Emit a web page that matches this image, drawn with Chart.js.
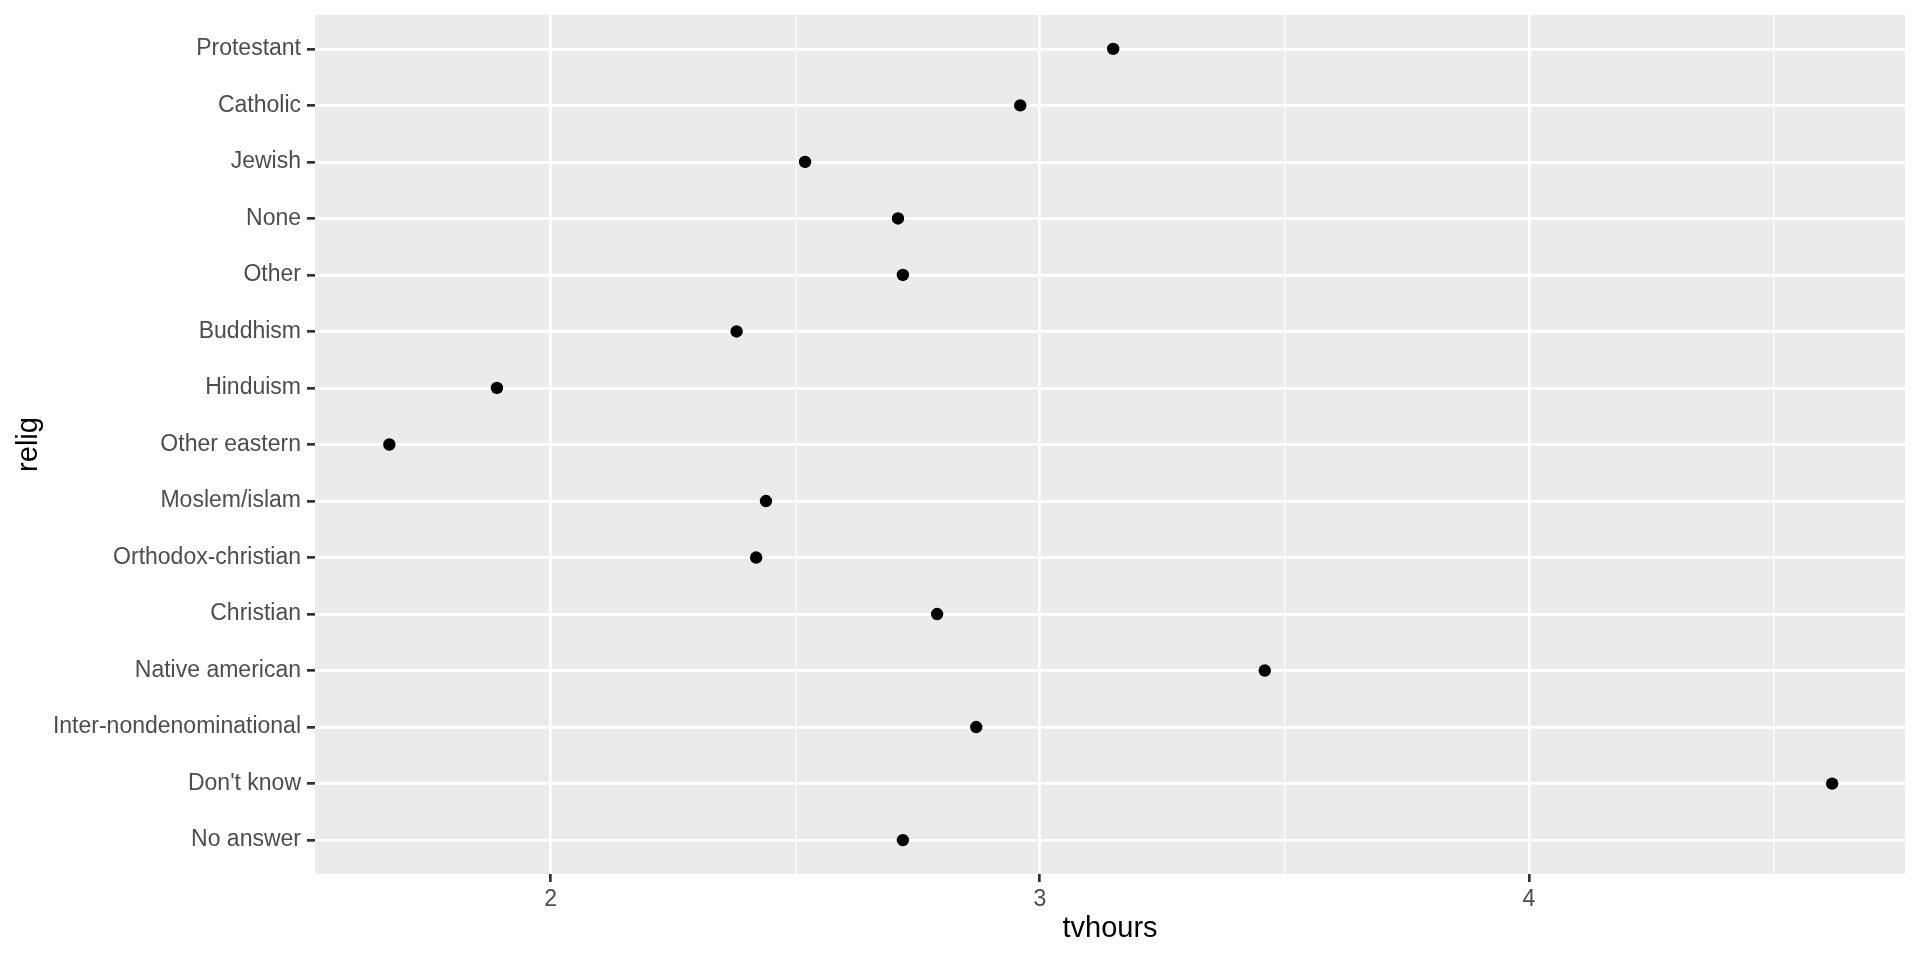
<!DOCTYPE html>
<html>
<head>
<meta charset="utf-8">
<title>relig x tvhours</title>
<script src="https://cdn.jsdelivr.net/npm/chart.js@4.4.1/dist/chart.umd.min.js"></script>
<style>
	body { margin: 0; background: #ffffff; }
	canvas { display: block; }
</style>
</head>
<body>
<canvas id="grafico" width="1920" height="960"></canvas>
<script>
// categorias (eixo y, de cima para baixo)
var relig = [
	"Protestant",
	"Catholic",
	"Jewish",
	"None",
	"Other",
	"Buddhism",
	"Hinduism",
	"Other eastern",
	"Moslem/islam",
	"Orthodox-christian",
	"Christian",
	"Native american",
	"Inter-nondenominational",
	"Don't know",
	"No answer",
];

// media de horas de tv por religiao
var tvhours = [3.15, 2.96, 2.52, 2.71, 2.72, 2.38, 1.89, 1.67, 2.44, 2.42, 2.79, 3.46, 2.87, 4.62, 2.72];

// ticks do eixo x
var xTicks = [2, 3, 4];
var xMinor = [2.5, 3.5, 4.5];

var pontos = [];
for (var i = 0; i < relig.length; i++) {
	pontos.push({ x: tvhours[i], y: i });
}

// fundo cinza do painel
var fundoPainel = {
	id: "fundoPainel",
	beforeDraw: function (chart) {
		var ctx = chart.ctx;
		var a = chart.chartArea;
		ctx.save();
		ctx.fillStyle = "#ffffff";
		ctx.fillRect(0, 0, chart.width, chart.height);
		ctx.fillStyle = "#EBEBEB";
		ctx.fillRect(a.left, a.top, a.right - a.left, a.bottom - a.top);
		ctx.restore();
	},
};

var fonte = "'Liberation Sans', Arial, sans-serif";

function ehMenor(ctx) {
	return ctx.tick && xMinor.indexOf(ctx.tick.value) >= 0;
}

new Chart(document.getElementById("grafico"), {
	type: "scatter",
	data: {
		datasets: [
			{
				data: pontos,
				backgroundColor: "#000000",
				borderWidth: 0,
				pointRadius: 6.2,
				pointHoverRadius: 6.2,
			},
		],
	},
	plugins: [fundoPainel],
	options: {
		responsive: false,
		animation: false,
		layout: { padding: { left: 0, right: 15, top: 15, bottom: 0 } },
		plugins: {
			legend: { display: false },
			tooltip: { enabled: false },
		},
		scales: {
			x: {
				type: "linear",
				min: 1.518,
				max: 4.769,
				afterBuildTicks: function (scale) {
					var todos = xTicks.concat(xMinor).sort(function (a, b) { return a - b; });
					scale.ticks = todos.map(function (v) { return { value: v }; });
				},
				afterFit: function (scale) {
					scale.height = 86;
					scale.paddingLeft = 0;
					scale.paddingRight = 0;
				},
				border: { display: false },
				grid: {
					color: "#ffffff",
					lineWidth: function (ctx) { return ehMenor(ctx) ? 1.35 : 2.7; },
					tickColor: function (ctx) { return ehMenor(ctx) ? "rgba(0,0,0,0)" : "#333333"; },
					tickLength: 8,
					tickWidth: 2.7,
				},
				ticks: {
					autoSkip: false,
					maxRotation: 0,
					padding: 4,
					color: "#4D4D4D",
					font: { family: fonte, size: 23 },
					callback: function (v) {
						return xTicks.indexOf(v) >= 0 ? String(v) : "";
					},
				},
				title: {
					display: true,
					text: "tvhours",
					color: "#000000",
					font: { family: fonte, size: 29 },
					padding: { top: 0, bottom: 14 },
				},
			},
			y: {
				type: "linear",
				reverse: true,
				min: -0.6,
				max: relig.length - 1 + 0.6,
				afterBuildTicks: function (scale) {
					scale.ticks = relig.map(function (_, i) { return { value: i }; });
				},
				afterFit: function (scale) {
					scale.width = 315;
					scale.paddingTop = 0;
					scale.paddingBottom = 0;
				},
				border: { display: false },
				grid: {
					color: "#ffffff",
					lineWidth: 2.7,
					tickColor: "#333333",
					tickLength: 8,
					tickWidth: 2.7,
				},
				ticks: {
					autoSkip: false,
					padding: 6,
					color: "#4D4D4D",
					font: { family: fonte, size: 23 },
					callback: function (v) {
						return relig[v];
					},
				},
				title: {
					display: true,
					text: "relig",
					color: "#000000",
					font: { family: fonte, size: 29 },
					padding: { top: 12, bottom: 0 },
				},
			},
		},
	},
});
</script>
</body>
</html>
